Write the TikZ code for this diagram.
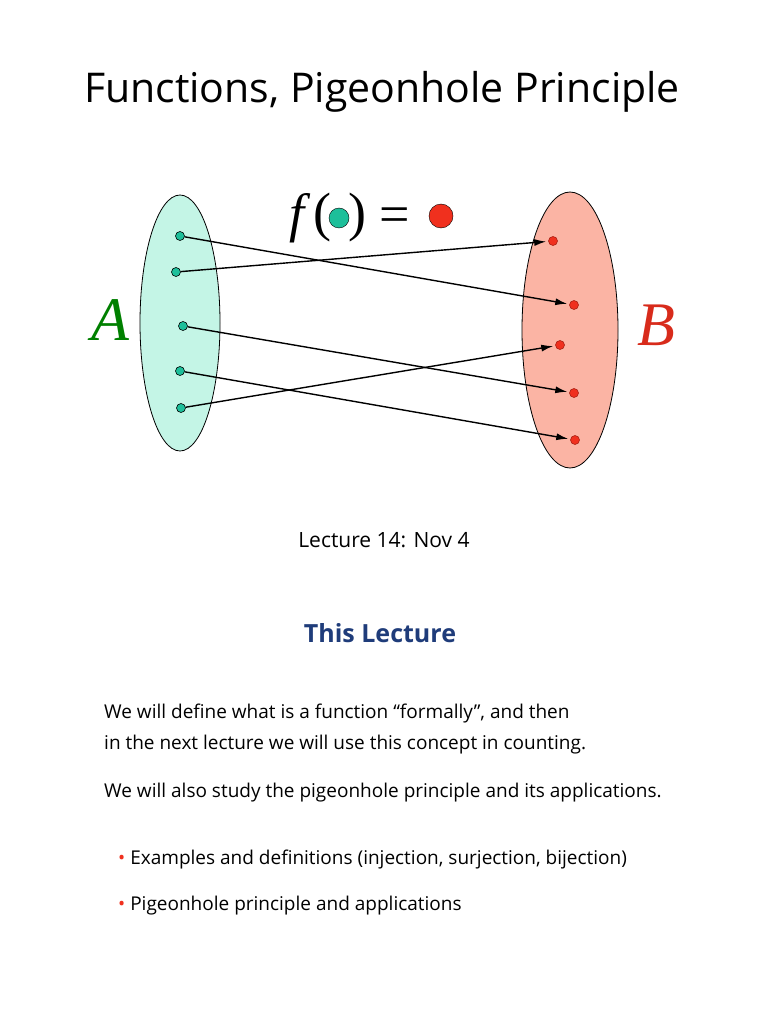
\documentclass[tikz,border=0pt]{standalone}
\usepackage{fontspec}
\setmainfont{Open Sans}
\newfontfamily\serifm{Liberation Serif}
\usetikzlibrary{arrows.meta}
\definecolor{cyanfill}{HTML}{C4F5E6}
\definecolor{salmon}{HTML}{FBB4A4}
\definecolor{tealdot}{HTML}{1DBF9A}
\definecolor{reddot}{HTML}{F0301E}
\definecolor{navy}{HTML}{1F3C7A}
\tikzset{
 dotA/.style={circle,draw=black,fill=tealdot,inner sep=0pt,minimum size=9pt,line width=0.6pt},
 dotB/.style={circle,draw=reddot!70!black,fill=reddot,inner sep=0pt,minimum size=9pt,line width=0.6pt},
 arr/.style={-{Latex[length=12pt,width=7pt]},line width=1.4pt,shorten >=2pt},
 txt/.style={anchor=west,inner sep=0pt,font=\fontsize{19}{22}\selectfont},
 big/.style={font=\serifm\fontsize{54}{58}\selectfont,inner sep=0pt}
}
\begin{document}
\begin{tikzpicture}[x=1pt,y=-1pt]
\useasboundingbox[fill=white] (0,0) rectangle (768,1024);
\node at (382,92) {\fontsize{41}{46}\selectfont Functions, Pigeonhole Principle};
\draw[fill=cyanfill,line width=0.8pt] (180,323) ellipse [x radius=40,y radius=128];
\draw[fill=salmon,line width=0.8pt] (570,330) ellipse [x radius=48,y radius=138];
\node[text=green!50!black] at (110,320) {\serifm\itshape\fontsize{62}{66}\selectfont A};
\node[text=reddot!90!black] at (656,325) {\serifm\itshape\fontsize{62}{66}\selectfont B};
\node[big] (f) at (300,218) {\textit{f}};
\node[big] (lp) at (322,218) {(};
\node[circle,draw=black,fill=tealdot,minimum size=20pt,inner sep=0pt] (fd) at (339,218) {};
\node[big] (rp) at (357,218) {)};
\node[big] (eq) at (395,220) {=};
\node[circle,draw=black,fill=reddot,minimum size=24pt,inner sep=0pt] (rd) at (441,216) {};
\node[dotA] (a1) at (180,236) {};
\node[dotA] (a2) at (176,272) {};
\node[dotA] (a3) at (183,326) {};
\node[dotA] (a4) at (180,371) {};
\node[dotA] (a5) at (181,408) {};
\node[dotB] (b1) at (553,241) {};
\node[dotB] (b2) at (574,305) {};
\node[dotB] (b3) at (560,345) {};
\node[dotB] (b4) at (574,393) {};
\node[dotB] (b5) at (575,440) {};
\draw[arr] (a1) -- (b2);
\draw[arr] (a2) -- (b1);
\draw[arr] (a3) -- (b4);
\draw[arr] (a4) -- (b5);
\draw[arr] (a5) -- (b3);
\node (lec) at (384,540) {\fontsize{21}{25}\selectfont Lecture 14: Nov 4};
\node[text=navy] (tl) at (380,633) {\fontsize{25}{30}\selectfont\bfseries This Lecture};
\node[txt] (p1) at (104,714) {We will define what is a function “formally”, and then};
\node[txt] (p2) at (104,745) {in the next lecture we will use this concept in counting.};
\node[txt] (p3) at (104,793) {We will also study the pigeonhole principle and its applications.};
\node[txt] (q1) at (118,860) {\textcolor{reddot}{•} Examples and definitions (injection, surjection, bijection)};
\node[txt] (q2) at (118,906) {\textcolor{reddot}{•} Pigeonhole principle and applications};
\end{tikzpicture}
\end{document}
